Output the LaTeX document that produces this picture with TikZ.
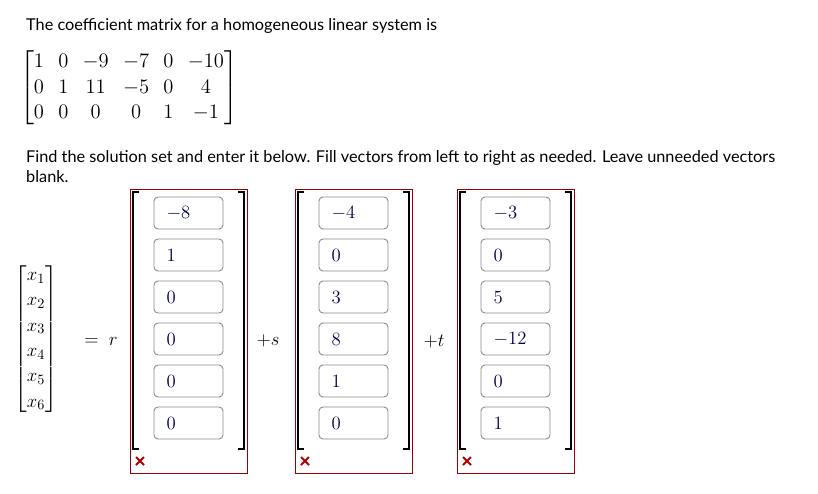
\documentclass[tikz,border=0pt]{standalone}
\usepackage{amsmath}
\usepackage{fontspec}
\setsansfont{Lato}
\usetikzlibrary{calc}
\begin{document}
\begin{tikzpicture}[x=1pt,y=-1pt,
  txt/.style={font=\sffamily\fontsize{16.3}{19}\selectfont,anchor=west,inner sep=0},
  fld/.style={draw=gray!90,rounded corners=4pt,minimum width=69pt,minimum height=32pt,line width=0.9pt,inner sep=0},
  ent/.style={font=\fontsize{15.5}{18}\selectfont,anchor=west,text=blue!30!black,scale=1.3},
  mth/.style={font=\fontsize{15.5}{18}\selectfont,scale=1.3},
  redbox/.style={draw=red!60!black,line width=1pt},
  brk/.style={line width=1.1pt},
  mk/.style={draw=red!70!black,line width=2pt}]
\useasboundingbox (0,0) rectangle (818,493);
\node[txt] (t1) at (26,26) {The coefficient matrix for a homogeneous linear system is};
\node[mth,scale=1.1] (M) at (129,88) {$\begin{bmatrix}1&0&-9&-7&0&-10\\0&1&11&-5&0&4\\0&0&0&0&1&-1\end{bmatrix}$};
\node[txt] (t2) at (26,158) {Find the solution set and enter it below. Fill vectors from left to right as needed. Leave unneeded vectors};
\node[txt] (t3) at (26,177) {blank.};
\node[mth] (X) at (36,339) {$\begin{bmatrix}x_1\\[1.5pt]x_2\\[1.5pt]x_3\\[1.5pt]x_4\\[1.5pt]x_5\\[1.5pt]x_6\end{bmatrix}$};
\node[mth] (eq) at (101,341) {$=\;r$};
\node[mth] (ps) at (268,341) {$+s$};
\node[mth] (pt) at (434,341) {$+t$};
\foreach \bx/\fx/\vals/\nm in {130/154/{-8,1,0,0,0,0}/a,295/319/{-4,0,3,8,1,0}/b,457/481/{-3,0,5,-12,0,1}/c}{
  \draw[redbox] (\bx,189) rectangle ++(117,284);
  \draw[brk] (\bx+9,192) -- (\bx+3,192) -- (\bx+3,449) -- (\bx+9,449);
  \draw[brk] (\bx+108,192) -- (\bx+114,192) -- (\bx+114,449) -- (\bx+108,449);
  \coordinate (x\nm) at (\bx+10,461);
  \draw[mk] ($(x\nm)+(-4,-4)$) -- ($(x\nm)+(4,4)$) ($(x\nm)+(-4,4)$) -- ($(x\nm)+(4,-4)$);
  \foreach \v [count=\i] in \vals {
    \node[fld] (f\nm\i) at (\fx+34.5,171+42*\i) {};
    \node[ent] at (\fx+8,171+42*\i) {$\v$};
  }
}
\end{tikzpicture}
\end{document}
